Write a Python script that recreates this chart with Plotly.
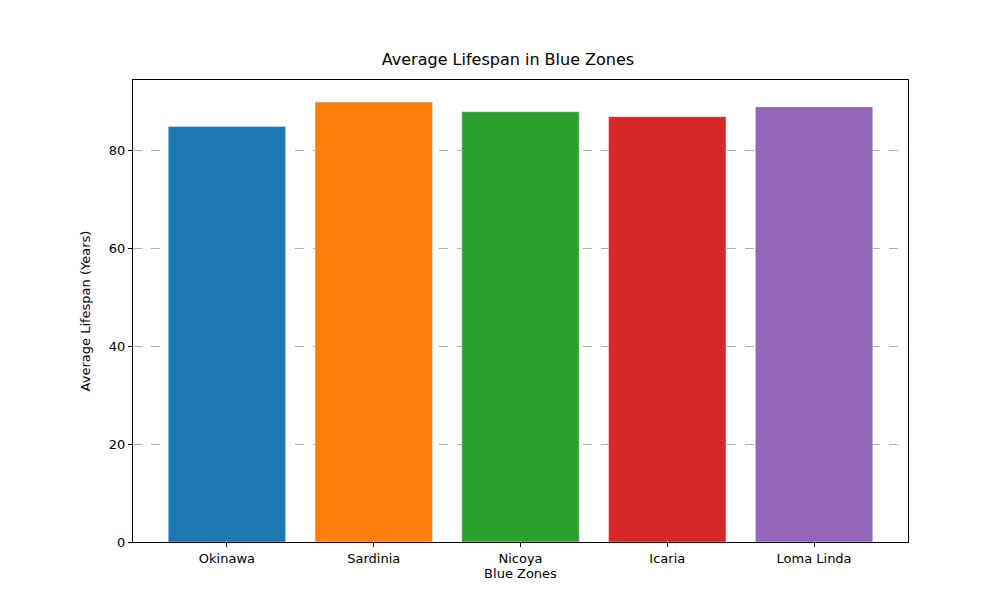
import plotly.graph_objects as go

zones = ["Okinawa", "Sardinia", "Nicoya", "Icaria", "Loma Linda"]
lifespans = [85, 90, 88, 87, 89]
colors = ["#1f77b4", "#ff7f0e", "#2ca02c", "#d62728", "#9467bd"]

fig = go.Figure(go.Bar(x=zones, y=lifespans, marker_color=colors, width=0.8))

axis_style = dict(showline=True, linecolor="black", mirror=True, ticks="outside",
                  tickcolor="black", ticklen=4, zeroline=False,
                  tickfont=dict(size=13, color="black"))
fig.update_layout(
    width=1000, height=600,
    margin=dict(l=125, r=100, t=72, b=66),
    plot_bgcolor="white", paper_bgcolor="white",
    font=dict(family="DejaVu Sans", color="black"),
    title=dict(text="Average Lifespan in Blue Zones", x=0.5, y=0.905, xanchor="center",
               yanchor="bottom", font=dict(size=16)),
    showlegend=False,
)
fig.update_xaxes(range=[-0.64, 4.64], showgrid=False,
                 title=dict(text="Blue Zones", font=dict(size=13), standoff=4), **axis_style)
fig.update_yaxes(range=[0, 94.5], tickvals=[0, 20, 40, 60, 80], showgrid=True,
                 gridcolor="#b0b0b0", griddash="dash", gridwidth=1,
                 title=dict(text="Average Lifespan (Years)", font=dict(size=13)), **axis_style)

fig.write_html("out.html")
